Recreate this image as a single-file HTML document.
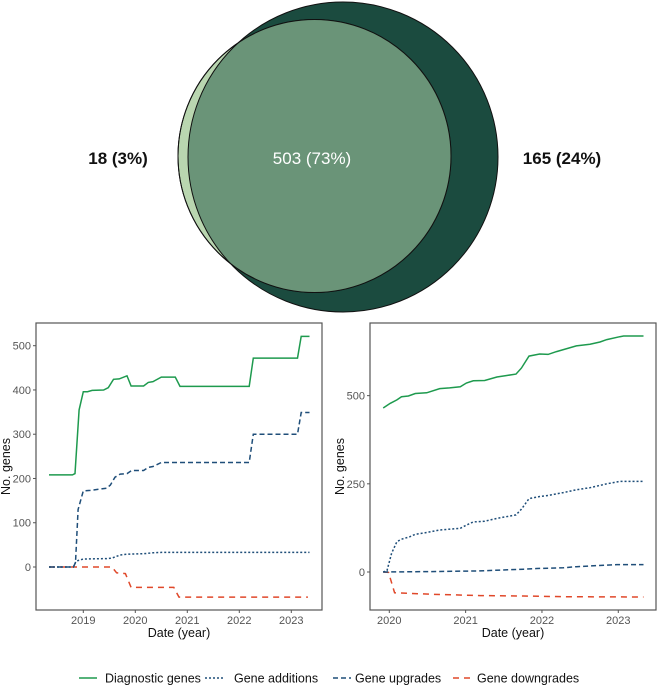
<!DOCTYPE html>
<html><head><meta charset="utf-8"><style>
body{margin:0;background:#fff;width:657px;height:685px;overflow:hidden;font-family:"Liberation Sans",sans-serif}
</style></head><body>
<svg id="svg" width="657" height="685" viewBox="0 0 657 685" xmlns="http://www.w3.org/2000/svg" font-family="Liberation Sans, sans-serif">
<g>
<circle cx="343" cy="157" r="155" fill="#1b4b3f" stroke="#111" stroke-width="1"/>
<circle cx="314.5" cy="156" r="136.5" fill="#b9d6b0" stroke="#111" stroke-width="1"/>
<clipPath id="cl"><circle cx="314.5" cy="156" r="136.5"/></clipPath>
<circle cx="343" cy="157" r="155" fill="#6a9478" stroke="#111" stroke-width="1" clip-path="url(#cl)"/>
<circle cx="314.5" cy="156" r="136.5" fill="none" stroke="#111" stroke-width="1"/>
<text x="118" y="164" text-anchor="middle" font-size="17" font-weight="bold" fill="#111">18 (3%)</text>
<text x="312" y="164" text-anchor="middle" font-size="17" fill="#fff">503 (73%)</text>
<text x="562" y="164" text-anchor="middle" font-size="17" font-weight="bold" fill="#111">165 (24%)</text>
</g>
<g id="left"></g>
<g id="right"></g>
<g font-size="12.5" fill="#111">
<g><line x1="79" y1="678" x2="97" y2="678" stroke="#1e9a4e" stroke-width="1.5"/><text x="105" y="682.5">Diagnostic genes</text></g>
<g><line x1="205" y1="678" x2="223" y2="678" stroke="#1f4e79" stroke-width="1.5" stroke-dasharray="2,2"/><text x="234" y="682.5">Gene additions</text></g>
<g><line x1="333" y1="678" x2="351" y2="678" stroke="#1f4e79" stroke-width="1.5" stroke-dasharray="5,3"/><text x="355" y="682.5">Gene upgrades</text></g>
<g><line x1="453" y1="678" x2="471" y2="678" stroke="#e0482a" stroke-width="1.5" stroke-dasharray="6,5"/><text x="477" y="682.5">Gene downgrades</text></g>
</g>
</svg>
<script>
// Left chart data
const leftDiagYears=[2018.34,2018.79,2018.84,2018.92,2019.0,2019.08,2019.17,2019.39,2019.48,2019.58,2019.69,2019.84,2019.92,2020.16,2020.25,2020.34,2020.5,2020.77,2020.86,2022.19,2022.27,2023.12,2023.19,2023.35];
const leftDiagValues=[208,208,211,355,396,396,399,400,405,424,425,432,409,409,417,419,429,429,408,408,472,472,521,521];
const leftUpYears=[2018.34,2018.81,2018.85,2018.9,2019.0,2019.13,2019.45,2019.52,2019.61,2019.71,2019.84,2019.93,2020.16,2020.25,2020.34,2020.5,2022.19,2022.27,2023.12,2023.19,2023.35];
const leftUpValues=[0,0,10,130,172,173,178,185,203,210,211,218,218,225,227,236,236,300,300,349,349];
const leftAddYears=[2018.34,2018.81,2018.86,2019.0,2019.45,2019.55,2019.71,2019.84,2020.16,2020.34,2020.5,2023.35];
const leftAddValues=[0,0,13,18,19,20,27,29,30,32,33,33];
const leftDownYears=[2018.34,2019.55,2019.64,2019.81,2019.92,2020.74,2020.84,2023.32];
const leftDownValues=[0,0,-13,-15,-46,-46,-68,-68];
const leftYTicks=[0,100,200,300,400,500];
const leftXTicks=[2019,2020,2021,2022,2023];
// Right chart data
const rightDiagYears=[2019.92,2020.01,2020.10,2020.16,2020.25,2020.34,2020.49,2020.66,2020.79,2020.93,2021.01,2021.10,2021.25,2021.41,2021.54,2021.66,2021.73,2021.83,2021.97,2022.08,2022.19,2022.45,2022.63,2022.76,2022.85,2023.02,2023.07,2023.33];
const rightDiagValues=[465,478,488,497,499,506,508,520,522,525,536,542,543,553,557,561,578,612,618,617,625,641,646,652,659,667,669,669];
const rightAddYears=[2019.92,2019.97,2020.03,2020.10,2020.16,2020.27,2020.34,2020.49,2020.66,2020.93,2021.01,2021.10,2021.25,2021.41,2021.66,2021.73,2021.83,2021.97,2022.08,2022.28,2022.45,2022.63,2022.85,2023.02,2023.33];
const rightAddValues=[0,4,53,86,93,100,107,112,119,124,133,142,144,152,162,178,208,214,217,225,233,239,250,257,257];
const rightUpYears=[2019.92,2020.53,2021.19,2021.76,2021.93,2022.28,2022.45,2022.98,2023.33];
const rightUpValues=[0,1,3,8,10,12,15,21,21];
const rightDownYears=[2019.92,2019.99,2020.07,2020.53,2021.19,2021.76,2022.28,2023.33];
const rightDownValues=[0,-1,-59,-63,-67,-68,-70,-71];
const rightYTicks=[0,250,500];
const rightXTicks=[2020,2021,2022,2023];

const NS='http://www.w3.org/2000/svg';
function mk(parent,tag,attrs){const e=document.createElementNS(NS,tag);for(const k in attrs)e.setAttribute(k,attrs[k]);parent.appendChild(e);return e;}
function chart(g,box,xs,ys,xt,yt,series,tag){
  const r=mk(g,'rect',{x:box.x0,y:box.y0,width:box.x1-box.x0,height:box.y1-box.y0,fill:'none',stroke:'#555','stroke-width':1.2});
  
  
  yt.forEach(v=>{const y=ys(v);
    mk(g,'line',{x1:box.x0-3,x2:box.x0,y1:y,y2:y,stroke:'#555'});
    const t=mk(g,'text',{x:box.x0-5,y:y+4,'text-anchor':'end','font-size':11,fill:'#555'});t.textContent=v;
    
    });
  xt.forEach(v=>{const x=xs(v);
    mk(g,'line',{x1:x,x2:x,y1:box.y1,y2:box.y1+3,stroke:'#555'});
    const t=mk(g,'text',{x:x,y:box.y1+14,'text-anchor':'middle','font-size':11,fill:'#555'});t.textContent=v;
    
    });
  const xtl=mk(g,'text',{x:(box.x0+box.x1)/2,y:box.y1+27,'text-anchor':'middle','font-size':12.5,fill:'#111'});xtl.textContent='Date (year)';
  
  
  const cy=(box.y0+box.y1)/2, tx=box.x0-box.ytOff;
  const ytl=mk(g,'text',{x:tx,y:cy,'text-anchor':'middle','font-size':12.5,fill:'#111',transform:`rotate(-90 ${tx} ${cy})`});ytl.textContent='No. genes';
  
  
  series.forEach(s=>{
    const d=s.x.map((v,i)=>(i?'L':'M')+xs(v).toFixed(1)+' '+ys(s.y[i]).toFixed(1)).join(' ');
    const p=mk(g,'path',{d:d,fill:'none',stroke:s.c,'stroke-width':1.5,'stroke-dasharray':s.da});
    
    
  });
}
const L=document.getElementById('left');
chart(L,{x0:36,x1:322,y0:323,y1:610,ytOff:26},y=>83.3+(y-2019)*52,v=>567-v*0.4426,leftXTicks,leftYTicks,[
 {x:leftDownYears,y:leftDownValues,c:'#e0482a',da:'6,5',n:'downgrades'},
 {x:leftAddYears,y:leftAddValues,c:'#1f4e79',da:'2,2',n:'additions'},
 {x:leftUpYears,y:leftUpValues,c:'#1f4e79',da:'5,3',n:'upgrades'},
 {x:leftDiagYears,y:leftDiagValues,c:'#1e9a4e',da:'none',n:'diagnostic'}],'left');
const R=document.getElementById('right');
chart(R,{x0:370,x1:656,y0:323,y1:610,ytOff:26},y=>389.3+(y-2020)*76.33,v=>572-v*0.3527,rightXTicks,rightYTicks,[
 {x:rightDownYears,y:rightDownValues,c:'#e0482a',da:'6,5',n:'downgrades'},
 {x:rightUpYears,y:rightUpValues,c:'#1f4e79',da:'5,3',n:'upgrades'},
 {x:rightAddYears,y:rightAddValues,c:'#1f4e79',da:'2,2',n:'additions'},
 {x:rightDiagYears,y:rightDiagValues,c:'#1e9a4e',da:'none',n:'diagnostic'}],'right');
</script>
</body></html>
